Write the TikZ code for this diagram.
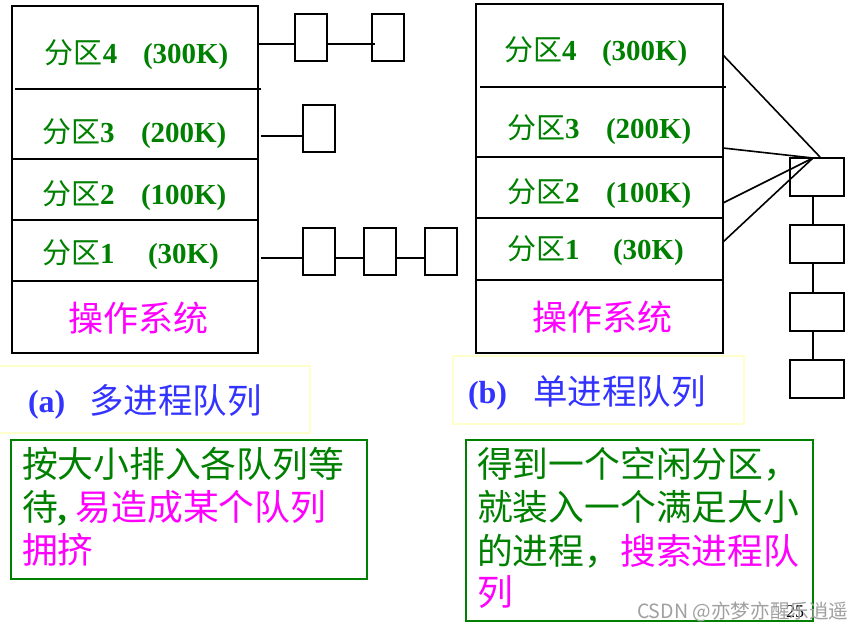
\documentclass[tikz,border=0pt]{standalone}
\usepackage{fontspec}
\setmainfont{Liberation Serif}
\newfontfamily\cjk{Noto Sans CJK SC}
\definecolor{dg}{HTML}{008000}
\definecolor{mg}{HTML}{FF00FF}
\definecolor{bl}{HTML}{3333FF}
\definecolor{ly}{HTML}{FFFFCC}
\definecolor{wm}{HTML}{A0A0A0}
\newcommand\fq{{\cjk\mdseries 分区}}
\begin{document}
\begin{tikzpicture}[x=1pt,y=-1pt,
  txt/.style={inner sep=0pt, outer sep=0pt, anchor=base west},
  part/.style={txt, text=dg, font=\fontsize{29}{29}\selectfont\bfseries},
  ostxt/.style={txt, text=mg, font=\cjk\fontsize{35}{35}\selectfont},
  labl/.style={txt, text=bl, font=\fontsize{32}{32}\selectfont\bfseries},
  labc/.style={txt, text=bl, font=\cjk\fontsize{34.5}{34.5}\selectfont},
  gtxt/.style={txt, text=dg, font=\cjk\fontsize{35.8}{35.8}\selectfont},
  mem/.style={draw=black, line width=2pt},
  conn/.style={draw=black, line width=2pt},
  fan/.style={draw=black, line width=1.6pt},
  qbox/.style={draw=black, line width=2pt, inner sep=0pt, minimum width=32pt, minimum height=47pt},
  rbox/.style={draw=black, line width=2pt, inner sep=0pt, minimum width=54pt, minimum height=38pt},
  yframe/.style={draw=ly, line width=2pt, inner sep=0pt},
  gframe/.style={draw=dg, line width=2pt, inner sep=0pt}
]
\useasboundingbox (0,0) rectangle (863,630);
\fill[white] (0,0) rectangle (863,630);

% ---------- left memory block ----------
\draw[mem] (12,6) rectangle (258,353);
\draw[mem] (15,89) -- (261,89);
\draw[mem] (12,159) -- (258,159);
\draw[mem] (12,220) -- (258,220);
\draw[mem] (12,281) -- (258,281);

\node[part] (l4n) at (45,63) {\fq 4};
\node[part] (l4s) at (143,63) {(300K)};
\node[part] (l3n) at (42,142) {\fq 3};
\node[part] (l3s) at (141,142) {(200K)};
\node[part] (l2n) at (42,204) {\fq 2};
\node[part] (l2s) at (141,204) {(100K)};
\node[part] (l1n) at (42,263) {\fq 1};
\node[part] (l1s) at (148,263) {(30K)};
\node[ostxt] (los) at (68,331) {操作系统};

% left queues
\coordinate (m4) at (258,43.7);
\coordinate (m3) at (261,136);
\coordinate (m1) at (261,258);
\node[qbox] (q41) at (311,37.5) {};
\node[qbox] (q42) at (388,37.5) {};
\node[qbox] (q31) at (319,128.5) {};
\node[qbox] (q11) at (319,251.5) {};
\node[qbox] (q12) at (380,251.5) {};
\node[qbox] (q13) at (441,251.5) {};
\draw[conn] (m4) -- (m4 -| q41.west);
\draw[conn] (m4 -| q41.east) -- ([xshift=4pt]m4 -| q42.west);
\draw[conn] (m3) -- (m3 -| q31.west);
\draw[conn] (m1) -- (m1 -| q11.west);
\draw[conn] (m1 -| q11.east) -- (m1 -| q12.west);
\draw[conn] (m1 -| q12.east) -- (m1 -| q13.west);

% ---------- right memory block ----------
\draw[mem] (476,4) rectangle (723,353);
\draw[mem] (480,87) -- (726,87);
\draw[mem] (476,157) -- (723,157);
\draw[mem] (476,218) -- (723,218);
\draw[mem] (476,280) -- (723,280);

\node[part] (r4n) at (504,60) {\fq 4};
\node[part] (r4s) at (602,60) {(300K)};
\node[part] (r3n) at (507,138) {\fq 3};
\node[part] (r3s) at (606,138) {(200K)};
\node[part] (r2n) at (507,202) {\fq 2};
\node[part] (r2s) at (606,202) {(100K)};
\node[part] (r1n) at (507,259) {\fq 1};
\node[part] (r1s) at (613,259) {(30K)};
\node[ostxt] (ros) at (532,330) {操作系统};

% right single queue
\node[rbox] (rq1) at (817,177) {};
\node[rbox] (rq2) at (817,244) {};
\node[rbox] (rq3) at (817,311.5) {};
\node[rbox] (rq4) at (817,378.5) {};
\draw[conn] ([xshift=-4pt]rq1.south) -- ([xshift=-4pt]rq2.north);
\draw[conn] ([xshift=-4pt]rq2.south) -- ([xshift=-4pt]rq3.north);
\draw[conn] ([xshift=-4pt]rq3.south) -- ([xshift=-4pt]rq4.north);

\coordinate (f4) at (723,55);
\coordinate (f3) at (723,148);
\coordinate (f2) at (723,203);
\coordinate (f1) at (723,242);
\coordinate (apexA) at (820,157);
\coordinate (apexB) at (813,158);
\draw[fan] (f4) -- (apexA);
\draw[fan] (f3) -- (apexB);
\draw[fan] (f2) -- (apexB);
\draw[fan] (f1) -- (apexB);

% ---------- captions ----------
\node[yframe, minimum width=314pt, minimum height=67pt] (fa) at (153,399.5) {};
\node[labl] (la) at (28,412) {(a)};
\node[labc] (lac) at (89,413) {多进程队列};

\node[yframe, minimum width=291pt, minimum height=68pt] (fb) at (598.5,390) {};
\node[labl] (lb) at (468,403) {(b)};
\node[labc] (lbc) at (533,404) {单进程队列};

% ---------- explanation boxes ----------
\node[gframe, minimum width=356pt, minimum height=139pt] (ga) at (189,509.5) {};
\node[gtxt] (ga1) at (22,477) {按大小排入各队列等};
\node[gtxt] (ga2) at (22,520) {待{\rmfamily\bfseries, }\textcolor{mg}{易造成某个队列}};
\node[gtxt, text=mg] (ga3) at (22,563) {拥挤};

\node[gframe, minimum width=347pt, minimum height=181pt] (gb) at (639.5,530.5) {};
\node[gtxt] (gb1) at (477,477) {得到一个空闲分区，};
\node[gtxt] (gb2) at (477,520) {就装入一个满足大小};
\node[gtxt] (gb3) at (477,564) {的进程，\textcolor{mg}{搜索进程队}};
\node[gtxt, text=mg] (gb4) at (477,605) {列};

% ---------- page number and watermark ----------
\node[txt, font=\fontsize{18}{18}\selectfont] (pg) at (786,617) {25};
\node[txt, text=wm, font=\cjk\fontsize{19.6}{19.6}\selectfont] (wmk) at (637,618) {CSDN @亦梦亦醒乐逍遥};
\end{tikzpicture}
\end{document}
